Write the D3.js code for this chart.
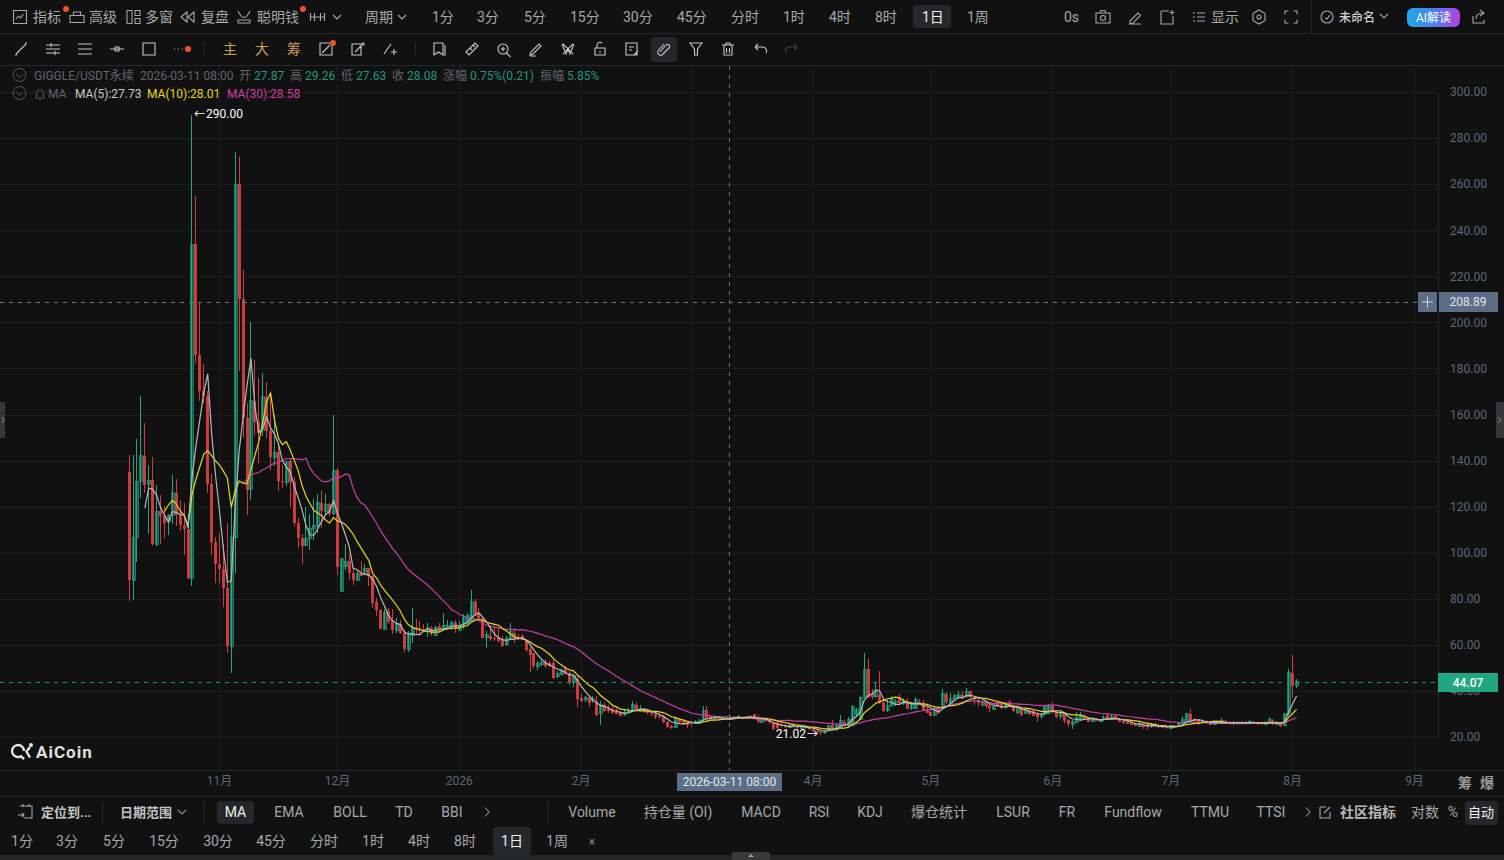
<!DOCTYPE html>
<html>
<head>
<meta charset="utf-8">
<title>GIGGLE/USDT</title>
<script src="https://cdn.jsdelivr.net/npm/d3@7"></script>
<style>
html, body { margin: 0; padding: 0; background: #111112; overflow: hidden; }
svg { display: block; }
text { font-family: Roboto, "Noto Sans CJK SC", sans-serif; }
</style>
</head>
<body>
<svg id="chart" width="1504" height="860"></svg>
<script>
// daily candles, first one is 2025-10-09
var firstDay = Date.UTC(2025, 9, 9);
var opens = [
135.2,88,106.4,131,142,129.5,131.4,103.6,118,116,
113.5,116,126,117,112,110.5,89,234,186,170,
168,130,104.5,95,93,84.5,59.4,106.4,260,210,
158.5,127.4,166,156.6,153,167.6,153,141.4,143.7,131,
130.5,139.7,130.5,113,106.4,103,106,110.7,111.8,121.6,
118,121,117,136,83.2,94,96.4,91.3,88,91.3,
90.6,93.4,90,78.5,75.3,66.7,74.6,70.6,66.4,68.9,
65.2,58,64,67.7,67,67,66,67.4,64.1,68.4,
67,67.4,68.1,69.6,66.4,68.4,69.9,70.3,78.7,73.6,
71.8,63,63.8,63,63.5,62.6,60,62.9,65.2,63.5,
63.8,61.9,58.3,56.3,50.8,51.4,52.5,52.2,52,46.1,
47.2,50,47.9,43.8,45,37,36.3,36.9,36,35.6,
30,33.7,32.7,32,31.7,31,29.6,30.8,31.7,34,
31.7,32,31.5,30.8,30,29.2,28.9,26.6,24.6,24.2,
27.8,26.8,26.5,26.5,26,26.3,27.4,31.7,29.2,27.7,
28.3,27.6,28.4,27.87,28.08,28.4,28.7,28.4,29,30,
28,26.4,27.7,27,26,26,25.7,25,24.3,25.2,
24.6,23.8,24.6,24,23.6,22.8,22.3,21.8,22.7,25.2,
23.1,24.2,26.7,24.8,25.2,29.6,27.7,37.2,49.4,39,
37.5,38.3,34.6,31.3,33.6,34,37.5,34.4,35.7,32.2,
32.5,35.4,34.6,32.2,31,29.2,32.5,32.5,38.7,34,
36.8,37,38.4,37.4,39.8,37.4,36.2,33.8,35.1,34,
32,35,34.5,32.6,35,33.3,30.8,32.2,30.2,31.2,
31.2,30.4,28.7,29.7,30,33.5,31,28.7,30.6,27.4,
25.3,26.4,27.4,29.3,28.1,26.7,27.5,26.8,27.4,29.5,
27.8,29,27.8,27,26.7,26.2,25.6,24.6,26,25.6,
24.4,25.4,25,24.6,24.6,23.7,24.8,24.8,25.7,26.8,
30,27.8,27.6,26.3,26.8,26.4,25.3,26.8,26,27,
26.2,25.7,26.4,25.9,26.4,26,26.6,26.2,26,25.5,
26,27.4,25.5,26,25.2,30,48,42.3];
var highs = [
142.3,142.3,149.5,168,156.3,138,141.6,129.5,125,120.4,
117,133.7,132,123,121.6,117,290,255,208.5,182,
170,134,107,108.5,104,113,121.6,274,271.6,222.8,
165,200,183.8,176,178,174,169,160,148,138,
140,140.5,133,115,108,120,117,123.3,125.6,127,
125.6,121.6,160,136.8,97.3,104,99,93,92,96.4,
95.2,93.4,90,80.4,75.5,75.4,76,75.4,71.8,71,
66.4,66,76,71.3,70.3,69,69.3,68,68.4,69.6,
74,70.7,70.3,71,70.3,73.2,73.9,83.8,80,76,
71.8,66,68.7,68,67.4,63.8,63.8,69.6,67.4,64.5,
64.5,62.5,59.7,56.5,53,53.7,53.7,53,53.7,48.6,
50,50.8,48.6,47.1,47.1,38.5,38,38,37.7,38,
35.5,34.6,34,33,32.5,31.5,31.6,32.8,35.5,35.4,
34,32.5,32,31.4,30.6,30,29.4,27,25.2,28.8,
28.4,27.6,27,27,27.2,27.8,33.6,33.5,29.6,28.8,
28.7,28.8,29,29.26,28.9,29.6,29.2,29.2,29.6,30.1,
29.4,28.2,28.2,27.5,26.5,26.6,26,25.6,25.8,26,
25,25,25,24.6,24,23.2,22.8,23,25.2,27.4,
25.8,29.6,27.5,28.6,34,32.5,38,56.6,53.7,41,
43.8,48.8,37,36,37.6,36.5,38.5,37,37,35,
37.2,36.4,36,33,31.5,33,33.5,41,39.5,39,
38.8,40,40,41.3,40,38,37,36,36,34.4,
34,35.5,35,35.4,36,34,33.4,33,32.6,32,
31.6,31,30,34,34.4,35,31.4,31,31,28,
27.5,30.9,30.7,30,28.6,28.6,28,28,29.7,30.3,
29.6,30,28.4,27.6,27.2,26.8,26.2,26.4,26.5,26.4,
26,26,25.4,25,25,25.2,25,26.2,29,30.3,
32.2,28.4,28,27.2,27.2,26.8,27.5,27.4,28.3,27.4,
27,27,26.8,27,26.8,27.2,27,26.6,26.4,27,
28.6,28,27,26.6,30.6,49.6,55.6,45];
var lows = [
78.9,79.3,95.8,123.8,126,108.3,102.8,102.8,103.6,106.4,
107.6,112.6,111.5,109.3,99,88.6,85.4,182,166,165,
126,99,87,87,76.5,56.5,47.8,91,179,150,
116.5,123,150.5,139,150.5,150,135.8,137.5,127,128,
129,120,111.5,102,95,102.8,101,105.7,108.6,110.7,
116.5,115.8,116.5,90.5,83.2,92.6,88,86.2,87.6,90,
90.6,85.5,76,72.5,66.7,66.7,68.9,64.5,65.2,64.5,
56.8,56.8,61,64.5,63.8,66,63.5,64,64,65,
66.4,66.4,66.4,65.2,66.4,67,68.9,69.9,72.5,71,
62.8,58.7,61.6,61.6,61.2,59,59.7,62,60.9,62,
62,57,48.2,50,49.3,51,50,50.5,45.3,45.7,
47,47,42.4,41.8,33.1,35.1,35,33,34.8,29,
25.4,31,30.5,30,29.8,29,29.2,30.5,31.4,31.2,
31.4,30.6,30,29.2,27.6,27.8,26,23.8,23.4,24,
25.8,25.4,23.8,24.5,25.6,26,26.7,27.6,27.3,27.4,
27.5,27.3,27.6,27.63,27.6,28,27.8,28,28.2,28.4,
26,26,26.5,25.5,23,23.4,24.3,24,24,23.8,
23.4,23.5,23.6,23,22.3,21.8,21.02,21.3,22.4,23.4,
22.8,23.8,24.4,24.4,24.8,29,27.7,36.8,37,36.5,
37,34.4,31,31,33,33.5,34,34,32,31.8,
32.2,34,31.5,30.3,29,29,30.2,31.8,34.5,33.7,
36,36.5,36.4,36.8,37,33.8,33,33.5,32.5,31,
31.8,33,32,32,33,31,30,29.3,29.8,29.6,
29,26.4,28,29.4,30,30.5,28.3,28,26,24.2,
23.5,26,27,27.2,26.4,26.3,26.8,26.5,27,27.4,
27.5,27.5,26.3,25.8,25.5,25,24.6,24.5,23.5,23,
24,24.4,24,23.7,23.4,23.4,24.3,24.5,25.4,26.4,
26.4,26.3,25.2,26,25.8,25,25,25.6,25.6,25.7,
25.5,25.3,25.8,25.5,25.7,25.7,25.8,25.4,25.2,25,
25.6,25.2,25,24.4,24.6,29,36.8,41.2];
var closes = [
88,106.4,131,142,129.5,131.4,103.6,118,116,113,
116,126,116.5,112,110.5,89,234,186,170,168,
130,104.5,95,93,84.5,59.4,106.4,260,210,158.5,
127.4,166,156.6,152,167.6,153,141.4,143.7,131,130.5,
139.7,130.5,113,106.4,103,106,110.7,111.8,121.6,118,
121,117,135.8,93.6,97.3,96,91,88,91,90,
93,90,78,75,66.7,74.2,70,66.4,68.9,65,
58,65,67.4,66.7,66.4,66.5,67.4,64.5,67.4,66.7,
68.6,68.6,69.6,66.7,68.1,71.8,72.8,78.7,73.2,71.8,
63,64.5,62.6,62.8,61.8,59.7,62.6,66,62.4,62.6,
62.3,57.7,55.8,50.8,51.8,52.2,50.8,51,45.7,47.4,
49,47.9,43.8,46.7,36.6,35.6,37,34.6,36.6,29.6,
34,31.5,31.2,30.5,30.2,29.3,30.8,31.4,34,31.7,
32.3,31,30.5,29.8,28.8,28.6,26.3,24.2,24,28,
26.3,26,25,26,26.8,27.3,31.3,28.1,27.7,28.3,
28,28.4,27.9,28.08,28.4,28.8,28.2,28.8,28.6,28.8,
26.3,27.7,27,26.3,23.4,23.8,24.8,24.4,25.2,24.4,
23.8,24.6,24,23.4,22.7,22.2,21.6,22.6,24.8,23.8,
25.2,27,24.8,27.7,33.2,31.8,37.2,49.4,37.5,37.2,
40.4,34.6,31.3,33.5,36.1,35.5,34.6,36,32.2,33.9,
36.4,34.4,31.8,30.6,29.2,32.2,30.6,38.7,35,36.8,
37.8,38.5,37,39.8,37.4,36.5,34.8,35,33.3,32.6,
33.3,33.6,32.6,34,33.4,31.2,32.6,29.6,31.9,30,
29.3,28.7,29.7,33.3,33.5,31,28.7,30.6,27,25.7,
26.7,28.3,29.6,27.6,26.7,28.1,27,27.6,28.6,27.8,
28.8,27.8,26.7,26.2,25.8,25.3,24.9,25.7,24.2,24.2,
25.4,24.8,24.4,24,23.7,24.8,24.6,25.7,27.5,30,
26.8,26.8,25.7,26.8,26.2,25.3,26.4,26,27,26,
25.8,26.4,26,26.5,26,26.6,26,25.7,25.5,26.1,
27.4,25.5,26.4,24.8,30,48,42.3,44.07];

// moving averages, ma5 starts at candle 4, ma10 at 9, ma30 at 29
var ma5 = [
119.4,128.1,127.5,124.9,119.7,116.4,113.3,117.8,117.5,116.7,116.2,110.8,132.4,146.3,157.9,169.4,
177.6,151.7,133.5,118.1,101.4,87.3,87.7,120.7,144.1,158.9,172.5,184.4,163.7,152.1,153.9,159,
154.1,151.5,147.3,139.9,137.3,135,128.9,124,118.5,111.8,107.8,107.6,110.4,113.6,116.6,117.9,
122.7,117.1,112.9,107.9,102.7,93.2,92.7,91.2,90.6,90.4,88.4,85.2,80.5,76.8,72.8,70.5,
69.3,68.9,65.7,64.7,64.9,64.4,64.5,66.1,66.9,66.1,66.5,66.6,66.9,67,68,68.2,
68.2,69,69.6,71.6,73.1,73.9,71.9,70,67,64.7,63,62.3,61.9,62.4,62.5,62.7,
63,62.1,60.2,57.7,55.5,53.7,52.1,51.3,50.3,49.5,48.8,48,47,47,44.6,42.1,
39.9,38,36,34.9,33.6,33.3,32.6,31.4,31.3,30.6,30.4,30.5,31.1,31.6,32,32.1,
31.9,31,30.5,29.7,28.9,27.7,26.5,26.2,25.8,25.7,25.9,26.3,26.1,26.1,27.3,27.9,
28.2,28.5,28.7,28.1,27.8,27.73,28,28.3,28.3,28.5,28.6,28.6,28.1,28,27.7,27,
26.1,25.7,25.1,24.9,24.5,24.7,24.7,24.6,24.4,24,23.9,23.4,22.9,22.5,22.9,23,
23.6,24.9,25.1,25.6,27.6,28.9,30.7,35.9,37.9,38.7,40.4,39.9,36.1,35.3,35.1,34.1,
34.1,35.2,34.9,34.4,34.6,34.6,33.5,33.5,32.5,31.6,30.9,32.3,33.1,34.7,35.8,37.2,
37,38,38.1,37.7,37.1,36.7,35.5,34.4,33.8,33.6,33.1,33.2,33.4,33,33,32.2,
31.8,31.1,30.7,30.1,29.9,30.4,31,31.4,31.4,31.4,30.4,28.8,27.8,27.7,27.3,27.6,
27.8,28.1,27.8,27.4,27.6,27.8,28,28.1,27.9,27.4,27,26.4,25.8,25.6,25.2,24.9,
24.9,24.9,24.6,24.6,24.5,24.3,24.3,24.6,25.2,26.5,26.9,27.4,27.4,27.2,26.5,26.2,
26.1,26.1,26.2,26.1,26.2,26.2,26.2,26.1,26.1,26.3,26.2,26.2,26,26,26.1,26.1,
26.1,26,26.7,30.9,34.3,37.8];
var ma10 = [
117.9,120.7,122.7,121.2,118.2,116.3,112.1,125.1,131.9,137.3,142.8,144.2,142.1,139.9,138,135.4,
132.5,119.7,127.1,131.1,130.2,129.9,136.1,142.2,148.1,156.4,165.8,169.3,157.6,149.7,146.9,148.2,
144.6,140.2,135.7,129.2,124.6,121.4,118.3,117.2,116.1,114.2,112.9,115.2,113.8,113.3,112.3,110.3,
108,104.9,102.1,99.3,96.6,90.8,89,85.9,83.7,81.6,79.5,77.3,74.7,71.3,68.8,67.7,
66.9,66.7,65.9,65.8,65.5,65.5,65.6,66.5,67,67.1,67.4,67.4,68,68.3,69.8,70.7,
71.1,70.5,69.8,69.3,68.9,68.5,67.1,66,64.7,63.6,62.9,62.7,62,61.3,60.1,59.1,
58.4,57.1,55.8,54,52.5,51.3,50.1,49.2,48.7,47.1,45.5,44,42.5,41.5,39.8,37.9,
36.6,35.3,33.7,33.1,32.1,31.9,31.6,31.3,31.5,31.3,31.3,31.2,31.1,31.1,30.9,30.5,
29.8,28.8,28.4,27.8,27.3,26.8,26.4,26.2,26,26.5,26.9,27.3,27.3,27.4,27.7,28,
28.01,28.2,28.5,28.2,28.3,28.4,28.4,28.2,28.2,28.1,27.8,27.4,26.9,26.6,26.3,25.8,
25.4,25.2,24.9,24.7,24.3,24.3,24.1,23.8,23.5,23.5,23.5,23.5,23.9,23.8,24.3,25.3,
26.3,27.8,30.5,31.8,33.2,34.7,35.3,36,36.6,36.9,37.3,37,35.7,35.1,34.8,34.4,
34.4,34.4,34.2,33.5,33.1,32.8,32.9,33.3,33.6,33.7,34.1,34.7,35.6,36.4,36.8,37.2,
36.9,36.8,36.3,35.8,35.4,34.9,34.4,33.9,33.4,33.3,32.7,32.5,32.3,31.9,31.6,31.1,
31.1,31.1,31.1,30.8,30.7,30.4,29.9,29.6,29.6,29.4,29,28.3,28,27.8,27.4,27.6,
27.8,28,28,27.7,27.5,27.4,27.2,27,26.8,26.3,26,25.7,25.4,25.1,24.9,24.7,
24.6,24.6,24.6,24.9,25.5,25.6,25.9,26,26.2,26.5,26.6,26.8,26.8,26.7,26.3,26.2,
26.2,26.2,26.2,26.1,26.3,26.2,26.2,26.1,26.1,26.2,26.2,26.2,26,26.4,28.5,30.2,
32];
var ma30 = [
130.3,131.6,133.6,134.4,134.8,136,136.8,138,138.9,139.4,140,140.8,140.9,140.8,140.6,140.3,
141,136.8,134.3,132.7,131.1,130.8,131.2,132.5,132.5,133,134.2,133.7,128,123.9,121.7,120.6,
118,115.4,112.8,109.5,106.9,104.4,101.9,99.8,97.6,94.9,92.8,91.2,89.9,88.6,87.3,85.9,
84.3,82.6,80.8,79,77.5,75.2,74.4,73.3,72.5,71.9,71.6,71.2,70.5,69.4,68.5,68,
67.7,67.5,67,66.7,66.7,66.6,66.5,66.6,66.3,65.9,65.5,65,64.5,63.8,63.4,62.8,
62.2,61.5,60.6,59.9,59.2,58.2,57,55.7,54.3,53,51.7,50.6,49.6,48.6,47.5,46.4,
45.3,44.3,43.3,42.3,41.3,40.2,39.3,38.6,37.8,37.1,36.2,35.5,34.6,33.9,33.2,32.3,
31.7,31.1,30.4,30.1,29.7,29.6,29.4,29.1,29.1,28.8,28.8,28.7,28.58,28.5,28.5,28.4,
28.3,28.2,28,27.8,27.7,27.6,27.4,27.3,27.1,27.1,27.2,27.2,27,26.9,26.9,26.9,
26.7,26.6,26.5,26.2,26,25.9,25.8,25.6,25.7,25.5,25.5,25.7,25.8,26.1,26.8,27,
27.4,27.8,28,28.2,28.4,28.8,29.2,29.5,29.9,30.1,30.5,30.9,31.2,31.4,31.7,31.9,
32.2,32.5,33,33.4,33.9,34.3,34.6,35,35.5,35.6,35.7,35.7,35.2,35.1,34.9,34.6,
34.6,34.7,34.7,34.6,34.4,34.4,34.2,34.2,34.1,33.8,33.7,33.6,33.7,33.8,33.8,33.8,
33.4,33.2,32.8,32.4,32.2,31.8,31.5,31.1,30.8,30.6,30.3,30.2,30,29.8,29.7,29.4,
29.2,28.9,28.8,28.5,28.3,28.1,27.9,27.8,27.7,27.4,27.1,26.8,26.6,26.5,26.3,26.3,
26.4,26.4,26.4,26.3,26.2,26.2,26.1,26.1,26.1,26,25.9,25.8,25.8,25.8,25.8,25.8,
25.8,25.9,25.9,25.9,26,26,26.1,26.1,26.1,26.3,27.1,27.7,28.3];

var priceTicks = [20,40,60,80,100,120,140,160,180,200,220,240,260,280,300];
// the March label sits under the crosshair date tag in the picture, so it stays blank
var monthLabels = ['11月','12月','2026','2月','','4月','5月','6月','7月','8月','9月'];
var monthDays = [[2025,10],[2025,11],[2026,0],[2026,1],[2026,2],[2026,3],[2026,4],[2026,5],[2026,6],[2026,7],[2026,8]];
var lastPrice = 44.07, crossPrice = 208.89, lowest = 21.02, highest = 290;

var svg = d3.select('#chart');
var bg = '#111112', gridCol = '#1d1e20', lineCol = '#262728', txt = '#a6a8ab', dim = '#5f6778', slate = '#5c6e85';
var green = '#1fa682', red = '#c93c3c';

function day(i) { return new Date(firstDay + i * 86400000); }
var months = monthDays.map(function(d) { return new Date(Date.UTC(d[0], d[1], 1)); });

var x = d3.scaleUtc().domain([months[0], months[10]]).range([219, 1414]);
var y = d3.scaleLinear().domain([20, 300]).range([737, 92]);

//Grid
svg.append('g').selectAll('line').data(priceTicks).enter().append('line')
   .attr('x1', 0).attr('x2', 1438)
   .attr('y1', function(d) { return Math.round(y(d)) + 0.5; })
   .attr('y2', function(d) { return Math.round(y(d)) + 0.5; })
   .attr('stroke', gridCol);
svg.append('g').selectAll('line').data(months).enter().append('line')
   .attr('y1', 66).attr('y2', 770)
   .attr('x1', function(d) { return Math.round(x(d)) + 0.5; })
   .attr('x2', function(d) { return Math.round(x(d)) + 0.5; })
   .attr('stroke', gridCol);

//Candles
var candles = svg.append('g').attr('shape-rendering', 'crispEdges').selectAll('g')
   .data(closes).enter().append('g');
candles.append('rect')
   .attr('x', function(d, i) { return Math.round(x(day(i))) - 1; })
   .attr('width', 3)
   .attr('y', function(d, i) { return y(Math.max(opens[i], d)); })
   .attr('height', function(d, i) { return Math.max(1, Math.abs(y(opens[i]) - y(d))); })
   .attr('fill', function(d, i) { return d >= opens[i] ? '#1b5648' : red; })
   .attr('stroke', function(d, i) { return d >= opens[i] ? '#1b7a62' : 'none'; })
   .attr('stroke-width', 1);
candles.append('rect')
   .attr('x', function(d, i) { return Math.round(x(day(i))); })
   .attr('width', 1)
   .attr('y', function(d, i) { return y(highs[i]); })
   .attr('height', function(d, i) { return y(lows[i]) - y(highs[i]); })
   .attr('fill', function(d, i) { return d >= opens[i] ? '#1fa682' : '#cf3e3e'; });

//Moving averages
function maLine(vals, start, col) {
  var line = d3.line()
    .x(function(d, i) { return x(day(i + start)) + 0.5; })
    .y(function(d) { return y(d); });
  svg.append('path').datum(vals)
    .attr('d', line)
    .attr('fill', 'none')
    .attr('stroke', col)
    .attr('stroke-width', 1.2);
}
maLine(ma30, 29, '#cc3ea6');
maLine(ma10, 9, '#e6d61c');
maLine(ma5, 4, '#b8b8ba');

//High and low marks
svg.append('text').attr('x', 194).attr('y', y(highest) + 3).attr('fill', '#fff')
   .style('font-size', '11px').text('←');
svg.append('text').attr('x', 206).attr('y', y(highest) + 3).attr('fill', '#fff')
   .style('font-size', '12px').text(highest.toFixed(2));
svg.append('text').attr('x', 806).attr('y', y(lowest) + 3).attr('fill', '#fff').attr('text-anchor', 'end')
   .style('font-size', '12px').text(lowest.toFixed(2));
svg.append('text').attr('x', 818).attr('y', y(lowest) + 3).attr('fill', '#fff').attr('text-anchor', 'end')
   .style('font-size', '11px').text('→');

//Price and crosshair lines
svg.append('line').attr('x1', 0).attr('x2', 1438).attr('y1', Math.round(y(lastPrice)) + 0.5).attr('y2', Math.round(y(lastPrice)) + 0.5)
   .attr('stroke', '#1c9476').attr('stroke-dasharray', '4 5');
svg.append('line').attr('x1', 0).attr('x2', 1418).attr('y1', Math.round(y(crossPrice)) + 0.5).attr('y2', Math.round(y(crossPrice)) + 0.5)
   .attr('stroke', '#74767f').attr('stroke-dasharray', '4 5');
svg.append('line').attr('y1', 66).attr('y2', 771).attr('x1', 729.5).attr('x2', 729.5)
   .attr('stroke', '#74767f').attr('stroke-dasharray', '4 5');

//Right axis
svg.append('rect').attr('x', 1438).attr('y', 66).attr('width', 66).attr('height', 705).attr('fill', bg);
svg.append('g').attr('transform', 'translate(1438,0)')
   .call(d3.axisRight(y).tickValues(priceTicks).tickSize(0).tickPadding(12).tickFormat(d3.format('.2f')))
   .call(function(g) {
     g.select('.domain').attr('stroke', lineCol);
     g.selectAll('text').attr('fill', dim).style('font-size', '12px').style('font-family', null);
   });

//Bottom axis
svg.append('rect').attr('x', 0).attr('y', 771).attr('width', 1504).attr('height', 26).attr('fill', bg);
svg.append('g').attr('transform', 'translate(0,771)')
   .call(d3.axisBottom(x).tickValues(months).tickSize(0).tickPadding(5).tickFormat(function(d, i) { return monthLabels[i]; }))
   .call(function(g) {
     g.select('.domain').remove();
     g.selectAll('text').attr('fill', dim).style('font-size', '12px').style('font-family', null);
   });

//Price tags
svg.append('rect').attr('x', 1438).attr('y', 673).attr('width', 60).attr('height', 19).attr('fill', green);
svg.append('text').attr('x', 1468).attr('y', 686.5).attr('text-anchor', 'middle').attr('fill', '#fff')
   .style('font-size', '12px').style('font-weight', 500).text(lastPrice.toFixed(2));
svg.append('rect').attr('x', 1418).attr('y', 292).attr('width', 19).attr('height', 20).attr('fill', slate);
svg.append('path').attr('d', 'M1422 302h11M1427.5 296.500v11').attr('stroke', '#cfd5dd').attr('fill', 'none');
svg.append('rect').attr('x', 1439).attr('y', 292).attr('width', 59).attr('height', 20).attr('fill', slate);
svg.append('text').attr('x', 1468).attr('y', 306).attr('text-anchor', 'middle').attr('fill', '#e4e7ea')
   .style('font-size', '12px').text(crossPrice.toFixed(2));
svg.append('rect').attr('x', 677).attr('y', 773).attr('width', 105).attr('height', 18).attr('fill', slate);
svg.append('text').attr('x', 729.5).attr('y', 786).attr('text-anchor', 'middle').attr('fill', '#e4e7ea')
   .style('font-size', '12px').text('2026-03-11 08:00');

//Watermark
svg.append('path').attr('d', 'M24 751a6 6 0 1 0-3 5.200l3 3M30 747l-3.500 4.500 3.500 6')
   .attr('fill', 'none').attr('stroke', '#e8e8e8').attr('stroke-width', 2.4);
svg.append('circle').attr('cx', 31).attr('cy', 745).attr('r', 2).attr('fill', '#e8e8e8');
svg.append('text').attr('x', 36).attr('y', 758).attr('fill', '#e0e0e0')
   .style('font-size', '17px').style('font-weight', 700).style('letter-spacing', '1px').text('AiCoin');

//Legend
function label(t, px, py, col, opts) {
  opts = opts || {};
  return svg.append('text').attr('x', px).attr('y', py).attr('fill', col)
    .attr('text-anchor', opts.anchor || 'start')
    .style('font-size', (opts.size || 14) + 'px')
    .style('font-weight', opts.weight || 400)
    .text(t);
}
var legendGrey = [['GIGGLE/USDT永续',34],['2026-03-11 08:00',140],['开',239],['高',290],['低',341],['收',392],['涨幅',443],['振幅',540]];
legendGrey.forEach(function(d) { label(d[0], d[1], 80, '#62646a', {size: 12}); });
var legendGreen = [['27.87',254],['29.26',305],['27.63',356],['28.08',407],['0.75%(0.21)',470],['5.85%',567]];
legendGreen.forEach(function(d) { label(d[0], d[1], 80, '#1f9a78', {size: 12}); });
label('MA', 48, 98, '#62646a', {size: 12});
label('MA(5):27.73', 75, 98, '#c9c9cb', {size: 12});
label('MA(10):28.01', 147, 98, '#e6d61c', {size: 12});
label('MA(30):28.58', 227, 98, '#cc3ea6', {size: 12});
[75, 93].forEach(function(cy) {
  svg.append('circle').attr('cx', 19.5).attr('cy', cy).attr('r', 6.5).attr('fill', 'none').attr('stroke', '#55575b');
  svg.append('path').attr('d', 'M16 ' + (cy - 1) + 'l3.500 3.500 3.500-3.500').attr('fill', 'none').attr('stroke', '#55575b');
});
svg.append('path').attr('d', 'M35 98h10M36.500 98v-5a3.500 3.500 0 0 1 7 0v5M39 100h2').attr('fill', 'none').attr('stroke', '#55575b');

//Toolbars
svg.append('rect').attr('x', 0).attr('y', 0).attr('width', 1504).attr('height', 66).attr('fill', bg);
[[0,33.5,1504,33.5],[0,65.5,1504,65.5],[0,770.5,1504,770.5],[0,796.5,1504,796.5],[1311.500,0,1311.500,33],
 [204.500,42,204.500,56],[415.500,42,415.500,56],[102.500,801,102.500,825],[204.500,801,204.500,825],[548.500,801,548.500,825]]
  .forEach(function(d) {
    svg.append('line').attr('x1', d[0]).attr('y1', d[1]).attr('x2', d[2]).attr('y2', d[3]).attr('stroke', lineCol);
  });

function box(bx, by, w, h) {
  svg.append('rect').attr('x', bx).attr('y', by).attr('width', w).attr('height', h).attr('rx', 4).attr('fill', '#26272a');
}
box(913, 5, 38, 23); box(651, 37, 26, 25); box(217, 801, 37, 23); box(1465, 801, 33, 24); box(493, 827, 38, 28);

var topLabels = [['指标',33],['高级',89],['多窗',145],['复盘',201],['聪明钱',257],['周期',365],['1分',432],['3分',477],['5分',524],
  ['15分',570],['30分',623],['45分',677],['分时',731],['1时',783],['4时',829],['8时',875],['1周',967],['0s',1064],['显示',1211]];
topLabels.forEach(function(d) { label(d[0], d[1], 22, txt); });
label('1日', 922, 22, '#f0f0f0');
label('未命名', 1339, 22, '#d2d2d2', {size: 12, weight: 500});

svg.append('defs').append('linearGradient').attr('id', 'aiGrad')
   .selectAll('stop').data([['0%','#1fa8e8'],['55%','#4f7cf0'],['100%','#b53fe0']]).enter().append('stop')
   .attr('offset', function(d) { return d[0]; }).attr('stop-color', function(d) { return d[1]; });
svg.append('rect').attr('x', 1407).attr('y', 8).attr('width', 53).attr('height', 19).attr('rx', 6).attr('fill', 'url(#aiGrad)');
label('AI解读', 1433.5, 22, '#fff', {size: 12, anchor: 'middle'});

// simple outline icons, each path is drawn around its own centre
function icon(cx, cy, d, col) {
  svg.append('path').attr('transform', 'translate(' + cx + ',' + cy + ')').attr('d', d)
    .attr('fill', 'none').attr('stroke', col || txt).attr('stroke-width', 1.1);
}
var chev = 'M-4 -2l4 4 4-4';
icon(20, 17, 'M-6.500 -6.500h13v13h-13zM-4 2l2.500-3 2 2 3-4');
icon(77, 17, 'M-7 -1.500h14v7h-14zM-3.500 -1.500v-3.500h7v3.500');
icon(133.500, 17, 'M-6.500 -6.500h5v13h-5zM1.500 -6.500h5v5h-5zM1.500 1.500h5v5h-5z');
icon(188, 17, 'M-1 -5l-6 5 6 5zM6 -5l-6 5 6 5z');
icon(244, 17, 'M-6 -6l3 5a4 4 0 0 0 6 0l3 -5M-6 6h12v-3h-12z');
icon(317.500, 17, 'M-7 -4v8M-3 -4v8M3 -4v8M7 -4v8M-7 0h14');
icon(337, 17, chev); icon(402, 17, chev); icon(1384, 16, chev);
icon(1103, 17, 'M-7 -4h14v10h-14zM-3 -4l1-2.500h4l1 2.500M2.500 1a2.500 2.500 0 1 1-5 0a2.500 2.500 0 1 1 5 0');
icon(1135, 17, 'M-5 4l8-8 2.500 2.500-8 8h-2.500zM-6 7h12');
icon(1167, 17, 'M-6 -6h8M-6 -6v13h12v-8M5 -7v5M2.500 -4.500h5');
icon(1199, 17, 'M-6 -4h2M-6 0h2M-6 4h2M-2 -4h8M-2 0h8M-2 4h8');
icon(1259, 17, 'M0 -7l6 3.500v7l-6 3.500-6-3.500v-7zM2 0a2 2 0 1 1-4 0a2 2 0 1 1 4 0');
icon(1291, 17, 'M-6 -2.500v-3.500h3.500M2.500 -6h3.500v3.500M6 2.500v3.500h-3.500M-2.500 6h-3.500v-3.500');
icon(1327, 17, 'M-6 0a6 6 0 1 1 12 0a6 6 0 1 1-12 0M-2 1l2 1 3-4');
icon(1479, 17, 'M-6 -1v7h11v-3M-3 2c0-4 3-6 7-6M1 -7l4 3-4 3');

//Second toolbar
var drawIcons = [
  [21,'M-5 5l10-10M-6 6h2M4 -6h2'],[53,'M-7 -4h14M-7 0h14M-7 4h14M-2 -6v4M2 2v4'],[85,'M-7 -5h14M-7 0h14M-7 5h14'],
  [117,'M-7 0h14M-2 -2h4v4h-4z'],[149,'M-6 -6h12v12h-12z'],[181,'M-7 0h1M-3 0h1M1 0h1'],
  [326,'M-6 -6h12v12h-12zM-4 4l8-8'],[358,'M-6 -5h9v11h-9zM-3 3l6-6M5 -7v4M3 -5h4'],[390,'M-6 5l7-10M1 3h6M4 0v6'],
  [440,'M-6 -6h9v12l-4.500-3-4.500 3zM5 -4v11'],[472,'M-6 3l9-9 3 3-9 9zM-2 -1l2 2M1 -4l2 2'],
  [504,'M4 0a5 5 0 1 1-10 0a5 5 0 1 1 10 0M2.500 4l4 4M-3.500 0h5M-1 -2.500v5'],[536,'M-6 6l3-1 8-8-2-2-8 8zM-6 7h6'],
  [568,'M-6 -5l4 10 2-5 2 5 4-10M-5 5l10-10M-5 -5l10 10'],[600,'M-5 -1h10v7h-10zM-3 -1v-3a3 3 0 0 1 5-2M0 2v2'],
  [632,'M-6 -6h11v12h-11zM-3 -2h5M-3 1h3M2 6l4-4'],[664,'M-4 3l6-7a2 2 0 0 1 3 3l-7 7a3 3 0 0 1-4-4l6-7'],
  [696,'M-6 -6h12l-4.500 6v6h-3v-6z'],[728,'M-6 -4h12M-4 -4v10h8v-10M-2 -4v-2h4v2M-1.500 -1v5M1.500 -1v5'],
  [760,'M-5 -2h7a4 4 0 0 1 4 6M-5 -2l3-3M-5 -2l3 3']];
drawIcons.forEach(function(d) { icon(d[0], 49, d[1], '#c8c8c8'); });
icon(792, 49, 'M5 -2h-7a4 4 0 0 0-4 6M5 -2l-3-3M5 -2l-3 3', '#444');
[['主',230],['大',262],['筹',294]].forEach(function(d) { label(d[0], d[1], 54, '#c8a05a', {anchor: 'middle'}); });
[[66,9],[303,9],[188,49],[333,43]].forEach(function(d) {
  svg.append('circle').attr('cx', d[0]).attr('cy', d[1]).attr('r', 3).attr('fill', '#f0502a');
});

//Bottom bars
var indicatorLabels = [['EMA',289],['BOLL',350],['TD',404],['BBI',452],['Volume',592],['持仓量 (OI)',678],['MACD',761],['RSI',819],
  ['KDJ',870],['爆仓统计',939],['LSUR',1013],['FR',1067],['Fundflow',1133],['TTMU',1210],['TTSI',1271],['对数',1425],['%',1453]];
indicatorLabels.forEach(function(d) { label(d[0], d[1], 817, txt, {anchor: 'middle'}); });
label('MA', 235.5, 817, '#f0f0f0', {anchor: 'middle'});
label('自动', 1481, 817, '#f0f0f0', {anchor: 'middle', size: 13});
label('定位到...', 41, 817, '#c4c4c4', {size: 13, weight: 700});
label('日期范围', 120, 817, '#c4c4c4', {size: 13, weight: 700});
label('社区指标', 1368, 817, '#b8b8b8', {anchor: 'middle', weight: 700});
label('筹', 1465, 788, '#9a9a9a', {anchor: 'middle', weight: 700});
label('爆', 1487, 788, '#9a9a9a', {anchor: 'middle', weight: 700});
icon(182, 812, chev, '#8a8a8a');
icon(487, 812, 'M-2 -4.500l4 4.500-4 4.500', '#8a8a8a');
icon(1308, 812, 'M-2 -4.500l4 4.500-4 4.500', '#8a8a8a');
icon(1325, 812, 'M-5 -5h6M-5 -5v11h10v-6M-1 1l6-6');
icon(26, 812, 'M-6 -6h12v12h-8M-3 -8v3M3 -8v3M-8 3h6M-4 1l2 2-2 2');

var periodLabels = [['1分',22],['3分',67],['5分',114],['15分',164],['30分',218],['45分',271],['分时',324],['1时',373],['4时',419],['8时',465],['1周',557]];
periodLabels.forEach(function(d) { label(d[0], d[1], 846, txt, {anchor: 'middle'}); });
label('1日', 512, 846, '#f0f0f0', {anchor: 'middle'});
label('×', 592, 846, '#8a8a8a', {anchor: 'middle', size: 12});

//Edges
svg.append('rect').attr('x', 0).attr('y', 855).attr('width', 1504).attr('height', 5).attr('fill', '#242526');
svg.append('path').attr('d', 'M732 860v-6a2 2 0 0 1 2-2h34a2 2 0 0 1 2 2v6z').attr('fill', '#38393b');
svg.append('path').attr('d', 'M748 857l3-3 3 3z').attr('fill', '#a0a0a0');
svg.append('rect').attr('x', 0).attr('y', 402).attr('width', 5).attr('height', 36).attr('fill', '#36373a');
svg.append('rect').attr('x', 1496).attr('y', 402).attr('width', 8).attr('height', 36).attr('fill', '#36373a');
svg.append('path').attr('d', 'M1498 417l3 3-3 3M2 417l2 3-2 3').attr('fill', 'none').attr('stroke', '#8a8a8a');
</script>
</body>
</html>
